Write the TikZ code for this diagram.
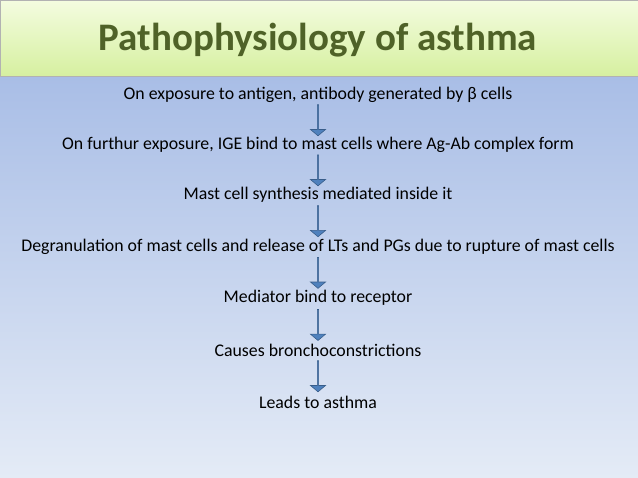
\documentclass[tikz,border=0pt]{standalone}
\usepackage{fontspec}
\setmainfont{Carlito}
\usetikzlibrary{shapes.arrows}
\definecolor{titlegreen}{HTML}{4F6228}
\definecolor{arrowblue}{HTML}{4F81BD}
\definecolor{arrowedge}{HTML}{385D8A}
\definecolor{bgtop}{HTML}{A8BDE6}
\definecolor{bgbottom}{HTML}{E4EBF6}
\definecolor{bartop}{HTML}{F4FCE0}
\definecolor{barbottom}{HTML}{D6F0A0}
\tikzset{
  step text/.style={font=\fontsize{17.8}{20}\selectfont, inner sep=1pt},
  fat arrow/.style={single arrow, draw=arrowedge, fill=arrowblue, line width=0.6pt,
    minimum height=31pt, minimum width=15pt, single arrow head extend=3pt,
    single arrow tip angle=100,
    shape border rotate=270, inner sep=0pt}
}
\begin{document}
\begin{tikzpicture}[x=1pt,y=-1pt]
  \useasboundingbox (0,0) rectangle (638,478);
  % background and title bar
  \shade[top color=bgtop, bottom color=bgbottom] (0,70) rectangle (638,478);
  \shade[top color=bartop, bottom color=barbottom, draw=gray!60] (0,0) rectangle (638,76);
  \node[font=\fontsize{39}{44}\bfseries\selectfont, text=titlegreen] (title) at (318,40) {Pathophysiology of asthma};

  \node[step text] (s1) at (318,95) {On exposure to antigen, antibody generated by β cells};
  \node[step text] (s2) at (318,145) {On furthur exposure, IGE bind to mast cells where Ag-Ab complex form};
  \node[step text] (s3) at (318,195) {Mast cell synthesis mediated inside it};
  \node[step text] (s4) at (318,247) {Degranulation of mast cells and release of LTs and PGs due to rupture of mast cells};
  \node[step text] (s5) at (318,298) {Mediator bind to receptor};
  \node[step text] (s6) at (318,350) {Causes bronchoconstrictions};
  \node[step text] (s7) at (318,402) {Leads to asthma};

  \foreach \a/\b in {s1/s2,s2/s3,s3/s4,s4/s5,s5/s6,s6/s7}
    \path (\a) -- (\b) node[midway, fat arrow] (arr-\a) {};
\end{tikzpicture}
\end{document}
